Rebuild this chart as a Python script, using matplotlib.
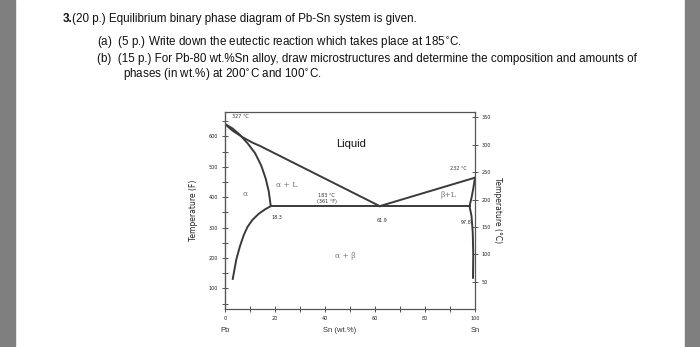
import matplotlib
matplotlib.use('Agg')
import matplotlib.pyplot as plt
from matplotlib.patches import Rectangle

# phase boundaries, composition (wt.% Sn) vs temperature (deg C)
liq_left_x = [0, 3, 7, 11, 14, 61.9]
liq_left_t = [338, 326, 314, 304, 298, 188]
liq_right_x = [61.9, 100]
liq_right_t = [188, 240]
sol_a_x = [0, 3, 6, 9, 12, 14.5, 16.3, 17.5, 18.3]
sol_a_t = [338, 330, 318, 303, 285, 262, 238, 215, 188]
solv_a_x = [18.3, 16, 13.5, 11, 9, 7.5, 6, 4.5, 3.1]
solv_a_t = [188, 182, 174, 163, 150, 135, 115, 90, 55]
eut_x = [18.3, 97.8]
eut_t = [188, 188]
sol_b_x = [97.8, 98.6, 99.3, 100]
sol_b_t = [188, 203, 220, 240]
solv_b_x = [97.8, 98.6, 99.1, 99.3, 99.2]
solv_b_t = [188, 170, 140, 100, 57]

x_ticks = [0, 20, 40, 60, 80, 100]
c_ticks = [50, 100, 150, 200, 250, 300, 350]
f_ticks = [100, 200, 300, 400, 500, 600]

fig = plt.figure(figsize=(7, 3.47), dpi=100)
fig.patches.append(Rectangle((0, 0), 15/700, 1, transform=fig.transFigure, color='#7f7f7f', zorder=0))
fig.patches.append(Rectangle((685/700, 0), 15/700, 1, transform=fig.transFigure, color='#7f7f7f', zorder=0))

txt = dict(family='Liberation Sans', fontsize=8.4, color='#111')
fig.text(63/700, 1 - 19/347, '3.', fontweight='bold', va='center', **txt)
fig.text(72/700, 1 - 19/347, '(20 p.) Equilibrium binary phase diagram of Pb-Sn system is given.', va='center', **txt)
fig.text(97/700, 1 - 43/347, '(a)  (5 p.) Write down the eutectic reaction which takes place at 185$^{\\circ}$C.', va='center', **txt)
fig.text(97/700, 1 - 59/347, '(b)  (15 p.) For Pb-80 wt.%Sn alloy, draw microstructures and determine the composition and amounts of', va='center', **txt)
fig.text(123/700, 1 - 75/347, 'phases (in wt.%) at 200$^{\\circ}$C and 100$^{\\circ}$C.', va='center', **txt)

ax = fig.add_axes([225/700, 38/347, 250/700, 197/347])
lc = '#3a3a3a'
for xs, ts in [(liq_left_x, liq_left_t), (liq_right_x, liq_right_t), (sol_a_x, sol_a_t),
               (solv_a_x, solv_a_t), (eut_x, eut_t), (sol_b_x, sol_b_t), (solv_b_x, solv_b_t)]:
    ax.plot(xs, ts, color=lc, lw=1.4, solid_joinstyle='round')

ax.set_xlim(0, 100)
ax.set_ylim(0, 360)
for s in ax.spines.values():
    s.set_color('#555')
    s.set_linewidth(0.9)

ax.set_xticks(x_ticks)
ax.set_xticks([10, 30, 50, 70, 90], minor=True)
ax.tick_params(axis='x', which='both', direction='inout', length=4, width=0.7, colors='#555',
               labelsize=3.5, labelcolor='#222', pad=3)
ax.yaxis.tick_right()
ax.set_yticks(c_ticks)
ax.tick_params(axis='y', which='both', direction='inout', length=4, width=0.7, colors='#555',
               labelsize=3.5, labelcolor='#222', pad=3)
ax.yaxis.set_label_position('right')
ax.set_ylabel('Temperature (°C)', rotation=270, fontsize=5.5, labelpad=8, color='#222')

sec = ax.secondary_yaxis('left', functions=(lambda c: c * 1.8 + 32, lambda f: (f - 32) / 1.8))
sec.set_yticks(f_ticks)
sec.set_yticks([50, 150, 250, 350, 450, 550, 650], minor=True)
sec.tick_params(which='both', direction='inout', length=4, width=0.7, colors='#555',
                labelsize=3.5, labelcolor='#222', pad=3)
sec.spines['left'].set_color('#555')
sec.set_ylabel('Temperature (F)', fontsize=5.5, labelpad=8, color='#222')

small = dict(fontsize=3.5, color='#333', ha='center', va='center')
grk = dict(family='DejaVu Serif', fontsize=5.5, color='#777', ha='center', va='center')
ax.text(6, 351, '327 °C', **small)
ax.text(50.5, 302, 'Liquid', family='Liberation Sans', fontsize=8, color='#111', ha='center', va='center')
ax.text(24.8, 227, 'α + L', **grk)
ax.text(8, 210, 'α', **grk)
ax.text(40.7, 207, '183 °C', **small)
ax.text(40.7, 196, '(361 °F)', **small)
ax.text(20.7, 167, '18.3', **small)
ax.text(62.7, 161, '61.9', **small)
ax.text(93.2, 257, '232 °C', **small)
ax.text(89.3, 208, 'β+L', **grk)
ax.text(96.5, 158, '97.8', **small)
ax.text(48, 97, 'α + β', **grk)

lab = dict(family='Liberation Sans', fontsize=5.5, color='#333', ha='center', va='center',
           transform=ax.get_xaxis_transform())
ax.text(0, -0.11, 'Pb', **lab)
ax.text(46, -0.11, 'Sn (wt.%)', **lab)
ax.text(100, -0.11, 'Sn', **lab)

fig.savefig('out.png', dpi=100)
